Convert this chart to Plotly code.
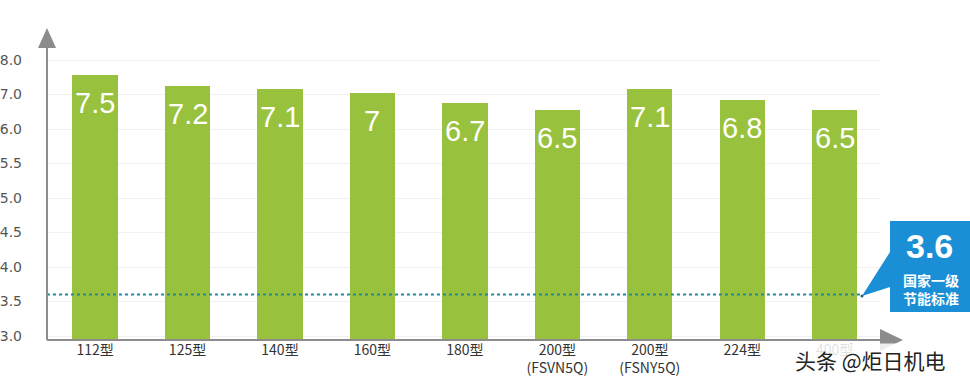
import numpy as np
import plotly.graph_objects as go

# ---- data ----
categories = ["112型", "125型", "140型", "160型", "180型",
              "200型<br>(FSVN5Q)", "200型<br>(FSNY5Q)", "224型", "400型"]
values = [7.5, 7.2, 7.1, 7.0, 6.7, 6.5, 7.1, 6.8, 6.5]
ytick_labels = ["3.0", "3.5", "4.0", "4.5", "5.0", "5.5", "6.0", "7.0", "8.0"]
standard_value = 3.6
standard_lines = ["国家一级", "节能标准"]
watermark = "头条 @炬日机电"

# ---- layout geometry (pixels) ----
W, H = 970, 384
L, R, T, B = 47, 90, 48, 44
PW, PH = W - L - R, H - T - B
YMAX = 8.265
PPU = PH / YMAX  # pixels per value unit

def px_x(px):
    return (px - L) / PW

def px_y(py):
    return (H - B - py) / PH

# tick label scale: evenly spaced labels
tick_idx = np.arange(len(ytick_labels))
tick_px = (H - B - 4) - 34.5 * tick_idx
tickvals = [(H - B - p) / PPU for p in tick_px]
label_nums = [float(t) for t in ytick_labels]
std_idx = float(np.interp(standard_value, label_nums, tick_idx))
std_y = ((H - B) - ((H - B - 4) - 34.5 * std_idx)) / PPU

bar_color = "#98c23d"
axis_color = "#8c8c8c"
blue = "#1a8fd6"

fig = go.Figure()
fig.add_trace(go.Bar(
    x=categories, y=values, width=0.49,
    marker=dict(color=bar_color, line=dict(width=0)),
    hoverinfo="skip",
))

# standard dotted line
x_end = px_x(862)
fig.add_shape(type="line", xref="paper", yref="y", x0=0, x1=x_end,
              y0=std_y, y1=std_y,
              line=dict(color="#1f8aa8", width=2, dash="dot"), layer="above")

annotations = []
for c, v in zip(categories, values):
    annotations.append(dict(
        x=c, y=v, xref="x", yref="y", text=f"{v:g}", showarrow=False,
        yanchor="middle", yshift=-28,
        font=dict(family="Liberation Sans, Arial", size=29, color="white"),
    ))

# axis arrowheads (pixel-sized paths)
fig.add_shape(type="path", xref="paper", yref="paper",
              xsizemode="pixel", ysizemode="pixel", xanchor=0, yanchor=1,
              path="M -9,0 L 9,0 L 0,20 Z",
              fillcolor=axis_color, line=dict(width=0), layer="above")
fig.add_shape(type="line", xref="paper", yref="paper",
              x0=0, x1=0, y0=0, y1=1, line=dict(color=axis_color, width=2))
fig.add_shape(type="path", xref="paper", yref="paper",
              xsizemode="pixel", ysizemode="pixel", xanchor=1, yanchor=0,
              path="M 0,11 L 0,-11 L 23,0 Z",
              fillcolor=axis_color, line=dict(width=0), layer="above")
fig.add_shape(type="line", xref="paper", yref="paper",
              x0=0, x1=1, y0=0, y1=0, line=dict(color=axis_color, width=2))

# callout box
fig.add_shape(type="path", xref="paper", yref="paper",
              xsizemode="pixel", ysizemode="pixel", xanchor=1, yanchor=0,
              path="M 10,28 L 92,28 L 92,119 L 10,119 L 10,88 L -18,44 L 10,53 Z",
              fillcolor=blue, line=dict(width=0), layer="above")
fig.add_shape(type="circle", xref="paper", yref="paper",
              xsizemode="pixel", ysizemode="pixel", xanchor=x_end, yanchor=px_y(296),
              x0=-1.5, x1=1.5, y0=-1.5, y1=1.5,
              fillcolor="#1d5f7a", line=dict(width=0), layer="above")

annotations.append(dict(x=px_x(929), y=px_y(246), xref="paper", yref="paper",
                        text=f"<b>{standard_value:g}</b>", showarrow=False,
                        xanchor="center", yanchor="middle",
                        font=dict(family="Liberation Sans, Arial", size=34, color="white")))
annotations.append(dict(x=px_x(931), y=px_y(289), xref="paper", yref="paper",
                        text="<br>".join(f"<b>{s}</b>" for s in standard_lines),
                        showarrow=False, xanchor="center", yanchor="middle",
                        font=dict(family="Noto Sans CJK SC", size=14, color="white")))

annotations.append(dict(x=px_x(870), y=px_y(360), xref="paper", yref="paper",
                        text=watermark, showarrow=False,
                        xanchor="center", yanchor="middle", bgcolor="rgba(255,255,255,0.85)",
                        font=dict(family="Noto Sans CJK SC", size=21, color="#222222")))

fig.update_layout(
    width=W, height=H,
    margin=dict(l=L, r=R, t=T, b=B, pad=0, autoexpand=False),
    paper_bgcolor="white", plot_bgcolor="white",
    showlegend=False, bargap=0,
    annotations=annotations,
    xaxis=dict(
        type="category", range=[-0.52, 8.49], automargin=False,
        showline=False, showgrid=False, zeroline=False, ticks="",
        tickfont=dict(family="Noto Sans CJK SC", size=14, color="#333333"),
        fixedrange=True,
    ),
    yaxis=dict(
        range=[0, YMAX], tickmode="array", tickvals=tickvals, ticktext=ytick_labels,
        automargin=False,
        showline=False, zeroline=False, ticks="",
        showgrid=True, gridcolor="#f1f1f1", gridwidth=1,
        ticklabelstandoff=24,
        tickfont=dict(family="DejaVu Sans", size=14, color="#555555"),
        fixedrange=True,
    ),
)

fig.write_html(
    "out.html",
    config={"displayModeBar": False},
    post_script="document.body.style.margin='0';document.body.style.padding='0';"
                "document.body.style.overflow='hidden';",
)
